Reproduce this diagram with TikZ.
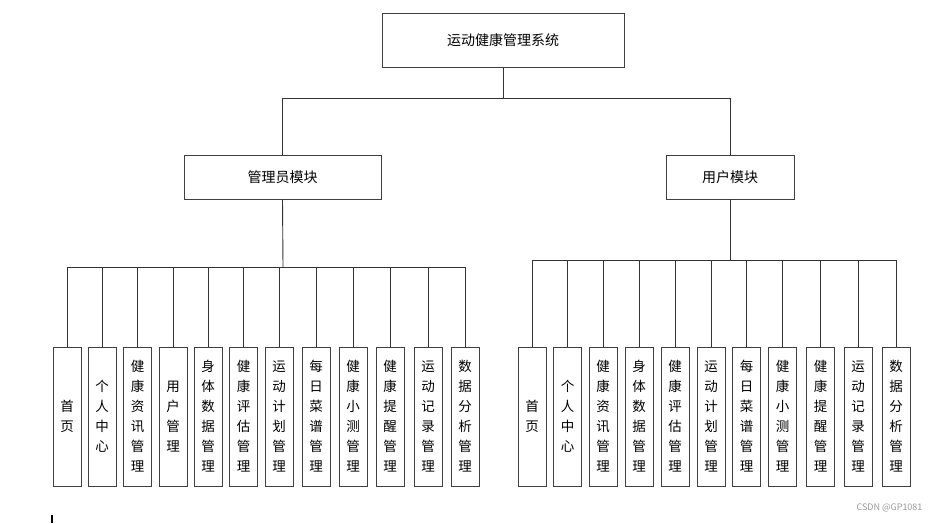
\documentclass[tikz,border=0pt]{standalone}
\usepackage{fontspec}
\setmainfont{Noto Sans CJK SC}
\begin{document}
\begin{tikzpicture}[x=1pt,y=-1pt,
  box/.style={draw=black!75,line width=0.9pt,fill=white,inner sep=0pt},
  leaf/.style={box,minimum width=28pt,minimum height=139pt,align=center,font=\fontsize{13.5}{20}\selectfont},
  conn/.style={draw=black!80,line width=0.9pt}]
\useasboundingbox (0,0) rectangle (941,523);
\node[box,minimum width=242pt,minimum height=54pt,font=\fontsize{14}{16}\selectfont] (root) at (503,40) {运动健康管理系统};
\node[box,minimum width=197pt,minimum height=44pt,font=\fontsize{14}{16}\selectfont] (adm) at (282.5,177) {管理员模块};
\node[box,minimum width=128pt,minimum height=44pt,font=\fontsize{14}{16}\selectfont] (usr) at (730,177) {用户模块};
\coordinate (j) at (503,98);
\draw[conn] (root.south) -- (j);
\draw[conn] (j) -| (adm.north);
\draw[conn] (j) -| (usr.north);
\def\admtexts{{"首\\页","个\\人\\中\\心","健\\康\\资\\讯\\管\\理","用\\户\\管\\理","身\\体\\数\\据\\管\\理","健\\康\\评\\估\\管\\理","运\\动\\计\\划\\管\\理","每\\日\\菜\\谱\\管\\理","健\\康\\小\\测\\管\\理","健\\康\\提\\醒\\管\\理","运\\动\\记\\录\\管\\理","数\\据\\分\\析\\管\\理"}}
\coordinate (ab) at (283,267);
\draw[conn] (adm.south) -- (ab);
\foreach \x/\t [count=\i] in {67/{首\\页},102/{个\\人\\中\\心},137.5/{健\\康\\资\\讯\\管\\理},173/{用\\户\\管\\理},208/{身\\体\\数\\据\\管\\理},243.5/{健\\康\\评\\估\\管\\理},279/{运\\动\\计\\划\\管\\理},316/{每\\日\\菜\\谱\\管\\理},353/{健\\康\\小\\测\\管\\理},390/{健\\康\\提\\醒\\管\\理},428/{运\\动\\记\\录\\管\\理},465/{数\\据\\分\\析\\管\\理}}{
  \node[leaf] (a\i) at (\x,416.5) {\t};
  \draw[conn] (a\i.north) |- (ab);
}
\coordinate (ub) at (730,260);
\draw[conn] (usr.south) -- (ub);
\foreach \x/\t [count=\i] in {532/{首\\页},567.5/{个\\人\\中\\心},603/{健\\康\\资\\讯\\管\\理},639/{身\\体\\数\\据\\管\\理},675/{健\\康\\评\\估\\管\\理},711/{运\\动\\计\\划\\管\\理},746.5/{每\\日\\菜\\谱\\管\\理},782.5/{健\\康\\小\\测\\管\\理},820.5/{健\\康\\提\\醒\\管\\理},858/{运\\动\\记\\录\\管\\理},896/{数\\据\\分\\析\\管\\理}}{
  \node[leaf] (u\i) at (\x,416.5) {\t};
  \draw[conn] (u\i.north) |- (ub);
}
\node[text=black!40,font=\fontsize{9}{10}\selectfont,anchor=east] (wm) at (926,508) {CSDN @GP1081};
\coordinate (m1) at (52,515);
\coordinate (m2) at (52,523);
\draw[line width=1.5pt] (m1) -- (m2);
\end{tikzpicture}
\end{document}
